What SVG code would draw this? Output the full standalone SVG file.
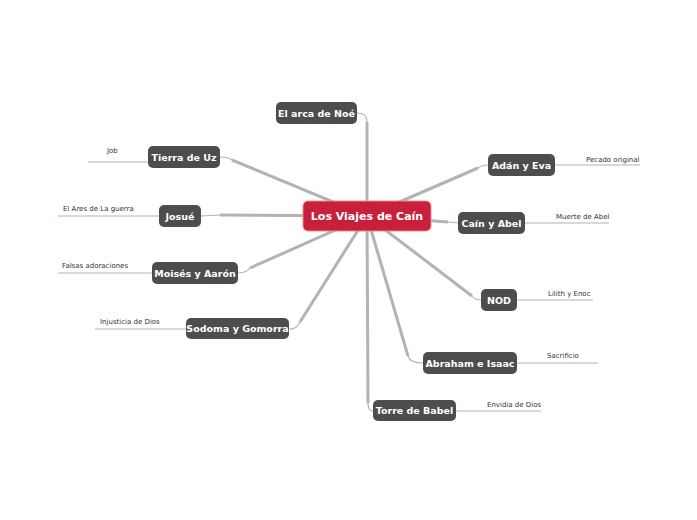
<svg xmlns="http://www.w3.org/2000/svg" width="697" height="520" viewBox="0 0 697 520">
<style>
.n rect{fill:#4d4d4d;rx:5px}
.n text{fill:#fff;font:bold 9.5px "DejaVu Sans",sans-serif;text-anchor:middle}
.l{font:7px "DejaVu Sans",sans-serif;fill:#333}
.c path{fill:none;stroke:#b3b3b3}
.t{stroke-width:3}
.s{stroke-width:1.2}
.u{stroke:#999;stroke-width:1}
</style>
<rect width="697" height="520" fill="#fff"/>
<g class="c">
<path class="t" d="M367 216L367 122"/><path class="s" d="M367 122Q367 113 357 113"/>
<path class="t" d="M367 216L232 160"/><path class="s" d="M232 160Q228 157 220 157"/>
<path class="t" d="M367 216L220 215"/><path class="s" d="M220 215L201 216"/>
<path class="t" d="M367 216L250 268"/><path class="s" d="M250 268Q246 273 238 273"/>
<path class="t" d="M367 216L300 322"/><path class="s" d="M300 322Q297 329 289 329"/>
<path class="t" d="M367 216L478 168"/><path class="s" d="M478 168Q482 165 488 165"/>
<path class="t" d="M367 216L448 222"/><path class="s" d="M448 222L458 223"/>
<path class="t" d="M367 216L472 296"/><path class="s" d="M472 296Q475 300 481 300"/>
<path class="t" d="M367 216L408 356"/><path class="s" d="M408 356Q410 363 423 363"/>
<path class="t" d="M367 216L368 403"/><path class="s" d="M368 403Q368 411 373 411"/>
<path class="u" d="M88 162H148M58 216H159M58 273H152M95 329H186M555 165H640M525 223H609M517 300H593M517 363H598M456 411H541"/>
</g>
<g id="center"><rect x="303" y="201" width="128" height="30" rx="5" fill="#c8203a" stroke="#e88" stroke-width="1"/><text x="367" y="220" fill="#fff" font-family="DejaVu Sans,sans-serif" font-weight="bold" font-size="11" text-anchor="middle">Los Viajes de Caín</text></g>
<g id="n1" class="n"><rect x="276" y="102" width="81" height="22"/><text x="316.5" y="116.5">El arca de Noé</text></g>
<g id="n2" class="n"><rect x="148" y="146" width="72" height="22"/><text x="184" y="160.5">Tierra de Uz</text></g>
<g id="n3" class="n"><rect x="159" y="205" width="42" height="22"/><text x="180" y="219.5">Josué</text></g>
<g id="n4" class="n"><rect x="152" y="262" width="86" height="22"/><text x="195" y="276.5">Moisés y Aarón</text></g>
<g id="n5" class="n"><rect x="186" y="318" width="103" height="21"/><text x="237.5" y="332">Sodoma y Gomorra</text></g>
<g id="n6" class="n"><rect x="488" y="154" width="67" height="22"/><text x="521.5" y="168.5">Adán y Eva</text></g>
<g id="n7" class="n"><rect x="458" y="212" width="67" height="22"/><text x="491.5" y="226.5">Caín y Abel</text></g>
<g id="n8" class="n"><rect x="481" y="289" width="36" height="22"/><text x="499" y="303.5">NOD</text></g>
<g id="n9" class="n"><rect x="423" y="352" width="94" height="22"/><text x="470" y="366.5">Abraham e Isaac</text></g>
<g id="n10" class="n"><rect x="373" y="400" width="83" height="21"/><text x="414.5" y="414">Torre de Babel</text></g>
<g id="labels">
<text class="l" x="107" y="153">Job</text>
<text class="l" x="63" y="211">El Ares de La guerra</text>
<text class="l" x="62" y="268">Falsas adoraciones</text>
<text class="l" x="100" y="324">Injusticia de Dios</text>
<text class="l" x="586" y="162">Pecado original</text>
<text class="l" x="556" y="219">Muerte de Abel</text>
<text class="l" x="548" y="296">Lilith y Enoc</text>
<text class="l" x="547" y="358">Sacrificio</text>
<text class="l" x="487" y="407">Envidia de Dios</text>
</g>
</svg>
